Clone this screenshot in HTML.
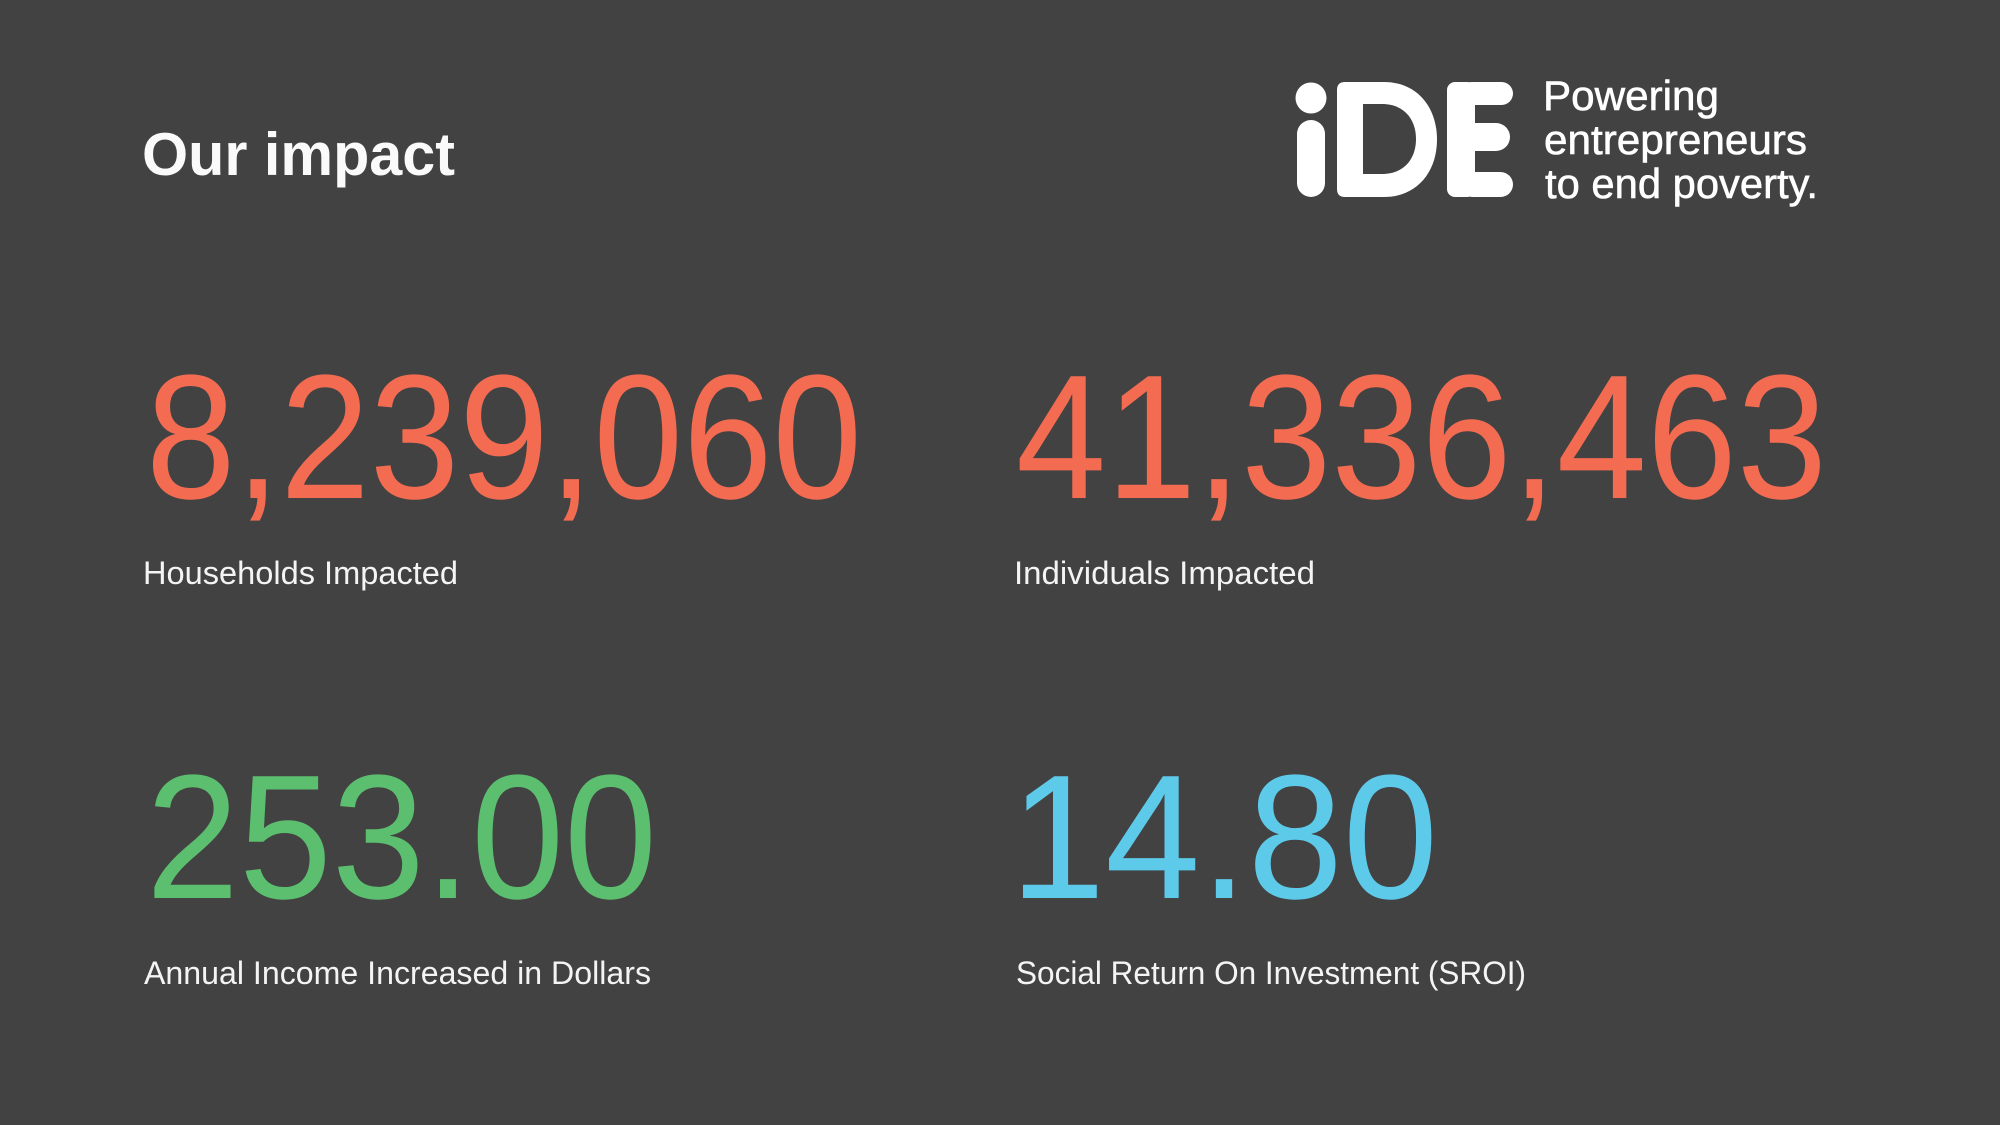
<!DOCTYPE html>
<html>
<head>
<meta charset="utf-8">
<style>
  html, body { margin: 0; padding: 0; background: #424242; }
  body { width: 2000px; height: 1125px; overflow: hidden; }
  svg { display: block; }
  .num { font-family: "Liberation Sans", "DejaVu Sans", sans-serif; font-size: 177px; font-weight: 400; }
  .lbl { font-family: "Liberation Sans", "DejaVu Sans", sans-serif; font-size: 32px; fill: #f4f4f4; }
  .tag { font-family: "Liberation Sans", "DejaVu Sans", sans-serif; font-size: 42px; fill: #ffffff; stroke: #ffffff; stroke-width: 0.6px; }
  .title { font-family: "Liberation Sans", "DejaVu Sans", sans-serif; font-size: 60px; font-weight: 700; fill: #fafafa; }
</style>
</head>
<body>
<svg width="2000" height="1125" viewBox="0 0 2000 1125" xmlns="http://www.w3.org/2000/svg">
  <rect x="0" y="0" width="2000" height="1125" fill="#424242"/>

  <!-- Title -->
  <text class="title" x="142" y="175" textLength="313" lengthAdjust="spacingAndGlyphs">Our impact</text>

  <!-- Logo iDE -->
  <g fill="#ffffff">
    <circle cx="1311" cy="98" r="15.5"/>
    <rect x="1297" y="120" width="28" height="77" rx="14" ry="14"/>
    <path fill-rule="evenodd" d="M1345,82 H1384 C1416,82 1437,106 1437,139.5 C1437,173 1416,197 1384,197 H1345 Q1337,197 1337,189 V90 Q1337,82 1345,82 Z
             M1363,104 V174 H1382 C1404,174 1416,159 1416,139 C1416,119 1404,104 1382,104 Z"/>
    <rect x="1447" y="82" width="28" height="115" rx="8" ry="8"/>
    <rect x="1460" y="82" width="53" height="23" rx="11.5" ry="11.5"/>
    <rect x="1460" y="123" width="50" height="28" rx="14" ry="14"/>
    <rect x="1460" y="172" width="53" height="25" rx="12.5" ry="12.5"/>
  </g>

  <!-- Tagline -->
  <text class="tag" x="1543" y="110" textLength="176" lengthAdjust="spacingAndGlyphs">Powering</text>
  <text class="tag" x="1544" y="154" textLength="263" lengthAdjust="spacingAndGlyphs">entrepreneurs</text>
  <text class="tag" x="1545" y="198" textLength="273" lengthAdjust="spacingAndGlyphs">to end poverty.</text>

  <!-- Numbers row 1 -->
  <text class="num" x="146" y="498" fill="#F36C52" textLength="716" lengthAdjust="spacingAndGlyphs">8,239,060</text>
  <text class="num" x="1016" y="498" fill="#F36C52" textLength="811" lengthAdjust="spacingAndGlyphs">41,336,463</text>

  <!-- Labels row 1 -->
  <text class="lbl" x="143" y="584" textLength="315" lengthAdjust="spacingAndGlyphs">Households Impacted</text>
  <text class="lbl" x="1014" y="584" textLength="301" lengthAdjust="spacingAndGlyphs">Individuals Impacted</text>

  <!-- Numbers row 2 -->
  <text class="num" x="146" y="898" fill="#5CBF6F" textLength="511" lengthAdjust="spacingAndGlyphs">253.00</text>
  <text class="num" x="1010" y="898" fill="#5ECAEA" textLength="428" lengthAdjust="spacingAndGlyphs">14.80</text>

  <!-- Labels row 2 -->
  <text class="lbl" x="144" y="984" textLength="507" lengthAdjust="spacingAndGlyphs">Annual Income Increased in Dollars</text>
  <text class="lbl" x="1016" y="984" textLength="510" lengthAdjust="spacingAndGlyphs">Social Return On Investment (SROI)</text>
</svg>
</body>
</html>
